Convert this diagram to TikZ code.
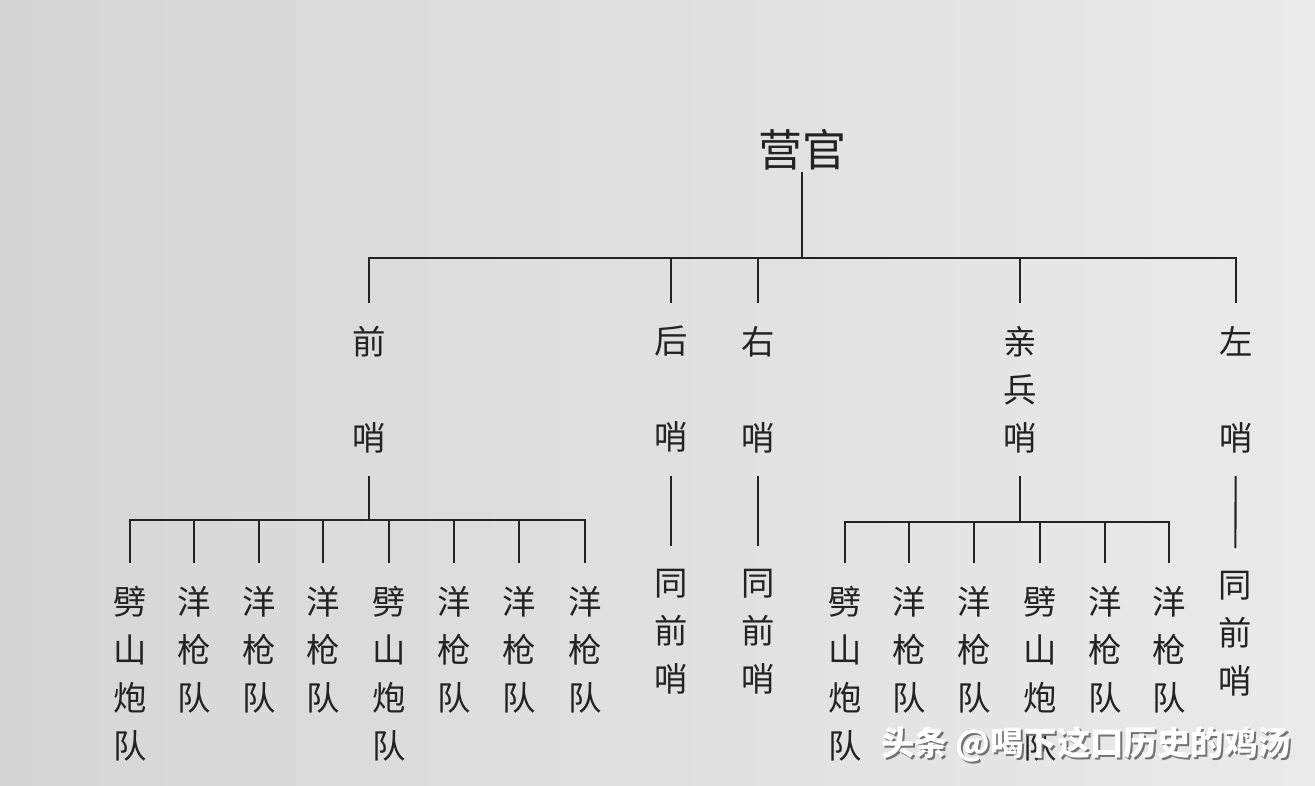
\documentclass[tikz,border=0pt]{standalone}
\usepackage{fontspec}
\newfontfamily\cjk{Noto Sans CJK SC}
\definecolor{paperdark}{RGB}{214,214,214}
\definecolor{paperlight}{RGB}{234,234,234}
\definecolor{ink}{RGB}{35,35,35}
\tikzset{
  rank/.style={font=\cjk\fontsize{19pt}{27.3pt}\selectfont, text=ink, align=center,
               anchor=north, inner xsep=2pt, inner ysep=13pt},
  tie/.style={draw=ink, line width=1.2pt}
}

\begin{document}
\begin{tikzpicture}[x=0.02cm,y=-0.02cm]
  \shade[left color=paperdark, right color=paperlight] (0,0) rectangle (1315,785);
  \useasboundingbox (0,0) rectangle (1315,785);
  % Top of the tree
  \node (ying) at (802,150) [font=\cjk\fontsize{25pt}{28pt}\selectfont, text=ink, inner sep=1pt] {营官};
  \coordinate (top) at (802,258);
  \node[rank] (qian) at (369,303) {前\\~\\哨};
  \node[rank] (hou)  at (671,303) {后\\~\\哨};
  \node[rank] (you)  at (758,303) {右\\~\\哨};
  \node[rank] (qin)  at (1020,303) {亲\\兵\\哨};
  \node[rank] (zuo)  at (1236,303) {左\\~\\哨};
  \draw[tie] (ying) -- (top);
  \draw[tie] (qian) |- (top) -| (zuo);
  \draw[tie] (hou) -- (hou |- top);
  \draw[tie] (you) -- (you |- top);
  \draw[tie] (qin) -- (qin |- top);
  % Left-hand side part of the tree
  \coordinate (qbar) at (369,520);
  \node[rank] (q1) at (130,563) {劈\\山\\炮\\队};
  \node[rank] (q2) at (194,563) {洋\\枪\\队};
  \node[rank] (q3) at (259,563) {洋\\枪\\队};
  \node[rank] (q4) at (323,563) {洋\\枪\\队};
  \node[rank] (q5) at (389,563) {劈\\山\\炮\\队};
  \node[rank] (q6) at (454,563) {洋\\枪\\队};
  \node[rank] (q7) at (519,563) {洋\\枪\\队};
  \node[rank] (q8) at (585,563) {洋\\枪\\队};
  \draw[tie] (qian) -- (qbar);
  \draw[tie] (q1) |- (qbar) -| (q8);
  \draw[tie] (q2) -- (q2 |- qbar);
  \draw[tie] (q3) -- (q3 |- qbar);
  \draw[tie] (q4) -- (q4 |- qbar);
  \draw[tie] (q5) -- (q5 |- qbar);
  \draw[tie] (q6) -- (q6 |- qbar);
  \draw[tie] (q7) -- (q7 |- qbar);
  % Middle part, same as the front
  \node[rank] (houT) at (671,546) {同\\前\\哨};
  \node[rank] (youT) at (758,546) {同\\前\\哨};
  \draw[tie] (hou) -- (houT);
  \draw[tie] (you) -- (youT);
  % Right-hand side part of the tree
  \coordinate (cbar) at (1020,522);
  \node[rank] (c1) at (845,563) {劈\\山\\炮\\队};
  \node[rank] (c2) at (909,563) {洋\\枪\\队};
  \node[rank] (c3) at (974,563) {洋\\枪\\队};
  \node[rank] (c4) at (1040,563) {劈\\山\\炮\\队};
  \node[rank] (c5) at (1105,563) {洋\\枪\\队};
  \node[rank] (c6) at (1169,563) {洋\\枪\\队};
  \draw[tie] (qin) -- (cbar);
  \draw[tie] (c1) |- (cbar) -| (c6);
  \draw[tie] (c2) -- (c2 |- cbar);
  \draw[tie] (c3) -- (c3 |- cbar);
  \draw[tie] (c4) -- (c4 |- cbar);
  \draw[tie] (c5) -- (c5 |- cbar);
  \node[rank] (zuoT) at (1235,548) {同\\前\\哨};
  \draw[tie] (zuo) -- (zuoT);
  % watermark
  \node (markshadow) at (1088,746) [font=\cjk\bfseries\fontsize{19pt}{22pt}\selectfont, text=black!55] {头条 @喝下这口历史的鸡汤};
  \node (mark) at (1086,744) [font=\cjk\bfseries\fontsize{19pt}{22pt}\selectfont, text=white] {头条 @喝下这口历史的鸡汤};
\end{tikzpicture}
\end{document}
